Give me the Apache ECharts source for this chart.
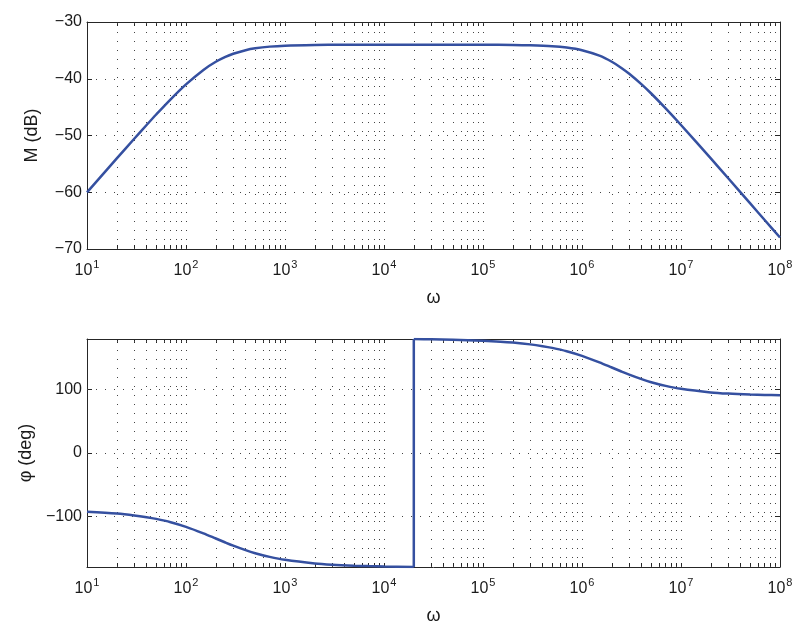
<!DOCTYPE html>
<html><head><meta charset="utf-8">
<script src="https://cdn.jsdelivr.net/npm/echarts@6/dist/echarts.min.js"></script>
<style>html,body{margin:0;padding:0;background:#fff}#c{width:808px;height:630px}</style>
</head><body><div id="c"></div>
<script>
// frequency samples (rad/s)
const freq = [10,20,30,40,50,70,100,150,200,250,300,400,500,700,1e3,2e3,3e3,5e3,7e3,1e4,2e4,3e4,5e4,7e4,1e5,2e5,3e5,5e5,7e5,1e6,1.5e6,2e6,2.5e6,3e6,4e6,5e6,7e6,1e7,2e7,3e7,5e7,7e7,1e8];
// magnitude in dB
const magnitude = [-60.03,-54.04,-50.58,-48.15,-46.30,-43.62,-40.99,-38.44,-37.01,-36.15,-35.60,-34.97,-34.64,-34.34,-34.17,-34.04,-34.02,-34.01,-34.00,-34.00,-34.00,-34.00,-34.00,-34.00,-34.01,-34.04,-34.10,-34.26,-34.50,-34.97,-35.94,-37.01,-38.09,-39.12,-40.99,-42.60,-45.22,-48.15,-54.04,-57.54,-61.97,-64.89,-67.98];
// phase, lower branch
const freqPhaseLow = [10,20,30,40,50,70,100,150,200,250,300,400,500,700,1e3,2e3,3e3,5e3,7e3,1e4,2e4];
const phaseLow = [-92.86,-95.71,-98.53,-101.31,-104.04,-109.29,-116.57,-126.87,-135.00,-141.34,-146.31,-153.44,-158.20,-164.05,-168.72,-174.35,-176.28,-177.85,-178.56,-179.14,-180.00];
// phase, upper branch
const freqPhaseHigh = [2e4,3e4,5e4,7e4,1e5,1.5e5,2e5,3e5,4e5,5e5,7e5,1e6,1.5e6,2e6,2.5e6,3e6,4e6,5e6,7e6,1e7,2e7,3e7,5e7,7e7,1e8];
const phaseHigh = [180.00,179.52,178.80,178.16,177.25,175.79,174.35,171.51,168.72,165.98,160.73,153.44,143.14,135.00,128.66,123.69,116.57,111.80,105.95,101.31,95.71,93.81,92.29,91.64,91.15];
// phase wrap point
const wrapFreq = 2e4;
const wrapPhase = [-180, 180];

// axis ticks
const xMajor = [10,100,1e3,1e4,1e5,1e6,1e7,1e8];
const xMinorMult = [2,3,4,5,6,7,8,9];
const magTicks = [-70,-60,-50,-40,-30];
const phaseTicks = [-100,0,100];

const xAll = [];
xMajor.forEach((m,i)=>{ xAll.push(m); if(i<xMajor.length-1) xMinorMult.forEach(k=>xAll.push(m*k)); });

const FONT = 'Liberation Sans';
const LINE = '#3550a0';
const FRAME = '#262626';
const GRIDC = '#444';
const TXT = '#1a1a1a';

const chart = echarts.init(document.getElementById('c'), null, {renderer:'canvas'});

function pair(xs, ys){ return xs.map((x,i)=>[x, ys[i]]); }
const minus = v => String(v).replace('-', '\u2212');

function xAxisMain(gi, withLabel){
  return {
    type:'log', logBase:10, gridIndex:gi, min:10, max:1e8, position:'bottom',
    name: withLabel ? '\u03c9' : '', nameLocation:'middle', nameGap:40,
    nameTextStyle:{fontFamily:FONT, fontSize:18, color:TXT},
    axisLine:{show:true, onZero:false, lineStyle:{color:FRAME, width:1}},
    axisTick:{show:true, inside:true, length:4, customValues:xAll, lineStyle:{color:FRAME}},
    axisLabel:{show:true, customValues:xMajor, margin:10, formatter: v => '{b|10}{s|' + Math.round(Math.log10(v)) + '}',
      rich:{b:{fontFamily:FONT, fontSize:16, color:TXT}, s:{fontFamily:FONT, fontSize:11, color:TXT, padding:[0,0,13,1]}}},
    splitLine:{show:false}
  };
}
function xAxisTop(gi){
  return {
    type:'log', logBase:10, gridIndex:gi, min:10, max:1e8, position:'top',
    axisLine:{show:true, onZero:false, lineStyle:{color:FRAME, width:1}},
    axisTick:{show:true, inside:true, length:4, customValues:xAll, lineStyle:{color:FRAME}},
    axisLabel:{show:false}, splitLine:{show:false}
  };
}

const vGridLines = xAll.filter(v=>v>10 && v<1e8).map(v=>({xAxis:v}));

const option = {
  animation:false,
  backgroundColor:'#fff',
  grid:[
    {left:87, top:22, width:693, height:227},
    {left:87, top:339, width:693, height:228}
  ],
  xAxis:[ xAxisMain(0,true), xAxisTop(0), xAxisMain(1,true), xAxisTop(1) ],
  yAxis:[
    {type:'value', gridIndex:0, min:-70, max:-30, interval:10, position:'left',
     name:'M (dB)', nameLocation:'middle', nameGap:46, nameTextStyle:{fontFamily:FONT, fontSize:18, color:TXT},
     axisLine:{show:true, onZero:false, lineStyle:{color:FRAME}},
     axisTick:{show:true, inside:true, length:5, lineStyle:{color:FRAME}},
     axisLabel:{fontFamily:FONT, fontSize:16, color:TXT, margin:5, formatter:minus},
     splitLine:{show:true, lineStyle:{color:GRIDC, width:1, type:[1,8]}}},
    {type:'value', gridIndex:0, min:-70, max:-30, interval:10, position:'right',
     axisLine:{show:true, onZero:false, lineStyle:{color:FRAME}},
     axisTick:{show:true, inside:true, length:5, lineStyle:{color:FRAME}},
     axisLabel:{show:false}, splitLine:{show:false}},
    {type:'value', gridIndex:1, min:-180, max:180, position:'left',
     name:'\u03c6 (deg)', nameLocation:'middle', nameGap:52, nameTextStyle:{fontFamily:FONT, fontSize:18, color:TXT},
     axisLine:{show:true, onZero:false, lineStyle:{color:FRAME}},
     axisTick:{show:true, inside:true, length:5, customValues:phaseTicks, lineStyle:{color:FRAME}},
     axisLabel:{fontFamily:FONT, fontSize:16, color:TXT, margin:5, customValues:phaseTicks, formatter:minus},
     splitLine:{show:false}},
    {type:'value', gridIndex:1, min:-180, max:180, position:'right',
     axisLine:{show:true, onZero:false, lineStyle:{color:FRAME}},
     axisTick:{show:true, inside:true, length:5, customValues:phaseTicks, lineStyle:{color:FRAME}},
     axisLabel:{show:false}, splitLine:{show:false}}
  ],
  series:[
    {type:'line', xAxisIndex:0, yAxisIndex:0, data:pair(freq, magnitude), smooth:0.3, symbol:'none',
     lineStyle:{color:LINE, width:2.5}, z:5,
     markLine:{silent:true, symbol:'none', label:{show:false}, animation:false,
       lineStyle:{color:GRIDC, width:1, type:[1,8]}, data:vGridLines}},
    {type:'line', xAxisIndex:2, yAxisIndex:2, data:pair(freqPhaseLow, phaseLow), smooth:0.3, symbol:'none',
     lineStyle:{color:LINE, width:2.5}, z:5,
     markLine:{silent:true, symbol:'none', label:{show:false}, animation:false,
       lineStyle:{color:GRIDC, width:1, type:[1,8]},
       data: vGridLines.concat(phaseTicks.map(v=>({yAxis:v})))}},
    {type:'line', xAxisIndex:2, yAxisIndex:2, data:pair(freqPhaseHigh, phaseHigh), smooth:0.3, symbol:'none',
     lineStyle:{color:LINE, width:2.5}, z:5},
    {type:'line', xAxisIndex:2, yAxisIndex:2, data:wrapPhase.map(p=>[wrapFreq,p]), symbol:'none',
     lineStyle:{color:LINE, width:2.5}, z:5}
  ]
};
chart.setOption(option);
</script></body></html>
